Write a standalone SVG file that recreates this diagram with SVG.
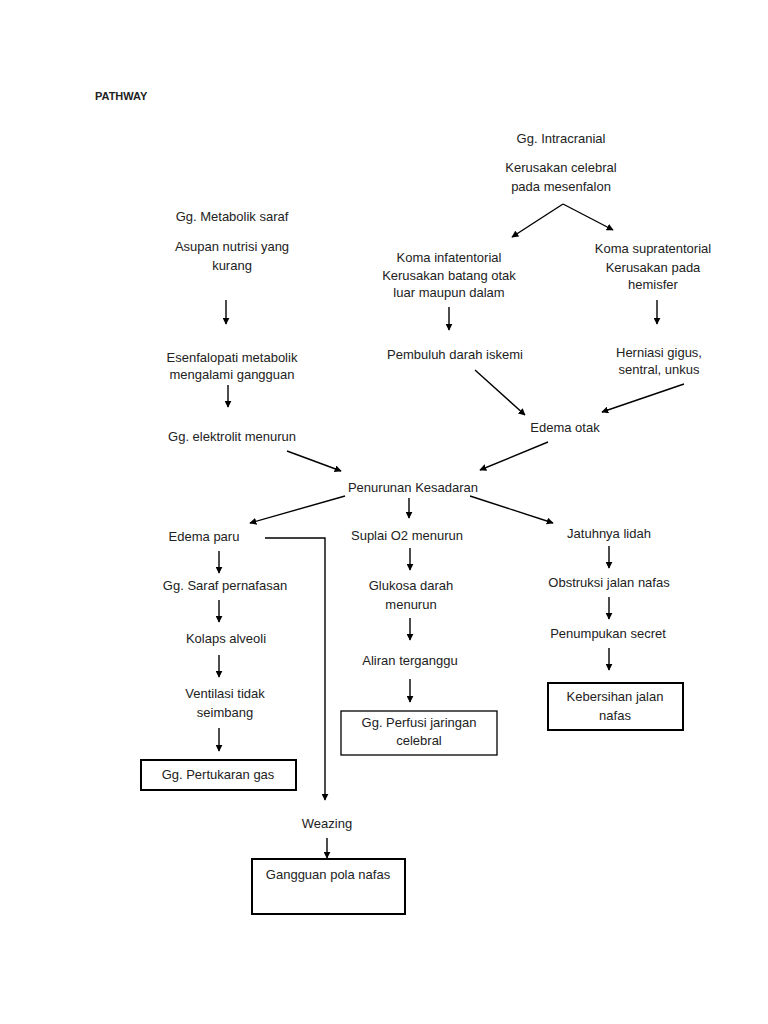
<svg xmlns="http://www.w3.org/2000/svg" width="768" height="1024" viewBox="0 0 768 1024">
<style>
text{font-family:"Liberation Sans",Arial,sans-serif;font-size:13px;fill:#222;text-anchor:middle}
.c line,.c polyline{stroke:#000;stroke-width:1.4;fill:none;marker-end:url(#a)}
.b{fill:#fff;stroke:#000;stroke-width:2}
</style>
<defs><marker id="a" viewBox="0 0 10 10" refX="9" refY="5" markerWidth="7" markerHeight="7" orient="auto" markerUnits="userSpaceOnUse"><path d="M0,0L10,5L0,10z" fill="#000"/></marker></defs>
<rect width="768" height="1024" fill="#fff"/>
<text x="95" y="100" style="text-anchor:start;font-weight:bold;font-size:11px">PATHWAY</text>
<g class="c">
<line x1="563" y1="204" x2="512" y2="237"/>
<line x1="563" y1="204" x2="613" y2="230"/>
<line x1="449" y1="307" x2="449" y2="330"/>
<line x1="657" y1="300" x2="657" y2="324"/>
<line x1="475" y1="370" x2="525" y2="415"/>
<line x1="684" y1="384" x2="602" y2="412"/>
<line x1="548" y1="442" x2="480" y2="470"/>
<line x1="226" y1="300" x2="226" y2="324"/>
<line x1="228" y1="385" x2="228" y2="407"/>
<line x1="287" y1="451" x2="341" y2="471"/>
<line x1="345" y1="496" x2="250" y2="523"/>
<line x1="409" y1="498" x2="409" y2="518"/>
<line x1="470" y1="496" x2="553" y2="523"/>
<polyline points="265,538 325,538 325,800"/>
<line x1="219" y1="551" x2="219" y2="573"/>
<line x1="219" y1="600" x2="219" y2="622"/>
<line x1="219" y1="655" x2="219" y2="677"/>
<line x1="219" y1="728" x2="219" y2="751"/>
<line x1="410" y1="548" x2="410" y2="570"/>
<line x1="410" y1="618" x2="410" y2="640"/>
<line x1="410" y1="679" x2="410" y2="702"/>
<line x1="609" y1="546" x2="609" y2="568"/>
<line x1="609" y1="597" x2="609" y2="619"/>
<line x1="609" y1="648" x2="609" y2="670"/>
<line x1="327" y1="838" x2="327" y2="858"/>
</g>
<g id="n1"><text x="561" y="143">Gg. Intracranial</text><text x="561" y="172">Kerusakan celebral</text><text x="561" y="191">pada mesenfalon</text></g>
<g id="n2"><text x="449" y="262">Koma infatentorial</text><text x="449" y="280">Kerusakan batang otak</text><text x="449" y="297">luar maupun dalam</text></g>
<g id="n3"><text x="653" y="253">Koma supratentorial</text><text x="653" y="272">Kerusakan pada</text><text x="653" y="289">hemisfer</text></g>
<g id="n4"><text x="455" y="359">Pembuluh darah iskemi</text></g>
<g id="n5"><text x="659" y="357">Herniasi gigus,</text><text x="659" y="374">sentral, unkus</text></g>
<g id="n6"><text x="565" y="432">Edema otak</text></g>
<g id="n7"><text x="232" y="221">Gg. Metabolik saraf</text><text x="232" y="251">Asupan nutrisi yang</text><text x="232" y="270">kurang</text></g>
<g id="n8"><text x="232" y="362">Esenfalopati metabolik</text><text x="232" y="379">mengalami gangguan</text></g>
<g id="n9"><text x="232" y="441">Gg. elektrolit menurun</text></g>
<g id="n10"><text x="413" y="492">Penurunan Kesadaran</text></g>
<g id="n11"><text x="204" y="541">Edema paru</text></g>
<g id="n12"><text x="407" y="540">Suplai O2 menurun</text></g>
<g id="n13"><text x="609" y="538">Jatuhnya lidah</text></g>
<g id="n14"><text x="225" y="590">Gg. Saraf pernafasan</text></g>
<g id="n15"><text x="226" y="643">Kolaps alveoli</text></g>
<g id="n16"><text x="225" y="698">Ventilasi tidak</text><text x="225" y="717">seimbang</text></g>
<g id="n17"><rect class="b" x="141" y="760" width="155" height="30"/><text x="218" y="779">Gg. Pertukaran gas</text></g>
<g id="n18"><text x="411" y="590">Glukosa darah</text><text x="411" y="609">menurun</text></g>
<g id="n19"><text x="410" y="665">Aliran terganggu</text></g>
<g id="n20"><rect class="b" x="341" y="711" width="156" height="44" style="stroke-width:1.3"/><text x="419" y="727">Gg. Perfusi jaringan</text><text x="419" y="745">celebral</text></g>
<g id="n21"><text x="609" y="587">Obstruksi jalan nafas</text></g>
<g id="n22"><text x="608" y="638">Penumpukan secret</text></g>
<g id="n23"><rect class="b" x="548" y="683" width="135" height="47"/><text x="615" y="701">Kebersihan jalan</text><text x="615" y="720">nafas</text></g>
<g id="n24"><text x="327" y="828">Weazing</text></g>
<g id="n25"><rect class="b" x="252" y="859" width="153" height="55"/><text x="328" y="879">Gangguan pola nafas</text></g>
</svg>
